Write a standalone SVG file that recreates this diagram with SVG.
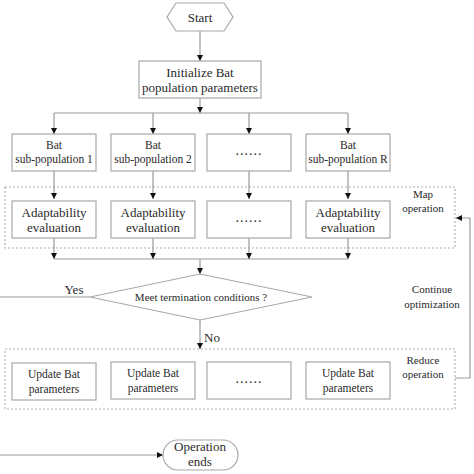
<svg xmlns="http://www.w3.org/2000/svg" width="474" height="474" viewBox="0 0 474 474">
<defs>
<marker id="arr" markerUnits="userSpaceOnUse" markerWidth="6" markerHeight="6" refX="6" refY="3" orient="auto">
<path d="M0,0 L6,3 L0,6 z" fill="#111"/>
</marker>
<style>
.box{fill:#fff;stroke:#a8a8a8;stroke-width:1.2}
.dash{fill:none;stroke:#b0b0b0;stroke-width:1.2;stroke-dasharray:2,2}
.ln{fill:none;stroke:#999;stroke-width:1.2}
.ar{marker-end:url(#arr)}
</style>
</defs>
<rect width="474" height="474" fill="#fff"/>

<g id="groups">
<rect id="map-region" class="dash" x="5" y="187" width="450" height="61"/>
<rect id="reduce-region" class="dash" x="5" y="349" width="450" height="60"/>
<text font-family="Liberation Serif" font-size="11" fill="#2a2a2a" text-anchor="middle" x="423" y="198">Map</text>
<text font-family="Liberation Serif" font-size="11" fill="#2a2a2a" text-anchor="middle" x="423" y="212">operation</text>
<text font-family="Liberation Serif" font-size="11" fill="#2a2a2a" text-anchor="middle" x="423" y="364">Reduce</text>
<text font-family="Liberation Serif" font-size="11" fill="#2a2a2a" text-anchor="middle" x="423" y="378">operation</text>
</g>

<g id="connectors">
<path class="ln ar" d="M200,31 V61"/>
<path class="ln ar" d="M200,98 V113"/>
<path class="ln" d="M54,113 H348"/>
<path class="ln ar" d="M54,113 V134"/>
<path class="ln ar" d="M153,113 V134"/>
<path class="ln ar" d="M249,113 V134"/>
<path class="ln ar" d="M348,113 V134"/>
<path class="ln ar" d="M54,171 V199"/>
<path class="ln ar" d="M153,171 V199"/>
<path class="ln ar" d="M249,171 V199"/>
<path class="ln ar" d="M348,171 V199"/>
<path class="ln ar" d="M54,238 V259"/>
<path class="ln ar" d="M153,238 V259"/>
<path class="ln ar" d="M249,238 V259"/>
<path class="ln ar" d="M348,238 V259"/>
<path class="ln" d="M54,259 H348"/>
<path class="ln ar" d="M200,259 V274"/>
<path class="ln" d="M90,297 H0"/>
<path class="ln ar" d="M0,455 H163"/>
<path class="ln ar" d="M200,320 V349"/>
<path class="ln ar" d="M455,378 H470 V218 H456"/>
<text font-family="Liberation Serif" font-size="13" fill="#2a2a2a" text-anchor="middle" x="74" y="294">Yes</text>
<text font-family="Liberation Serif" font-size="13" fill="#2a2a2a" text-anchor="middle" x="212" y="342">No</text>
<text font-family="Liberation Serif" font-size="11" fill="#2a2a2a" text-anchor="middle" x="432" y="293">Continue</text>
<text font-family="Liberation Serif" font-size="11" fill="#2a2a2a" text-anchor="middle" x="432" y="308">optimization</text>
</g>

<g id="start">
<polygon class="box" points="167,17 176,3 224,3 233,17 224,31 176,31"/>
<text font-family="Liberation Serif" font-size="13" fill="#2a2a2a" text-anchor="middle" x="200" y="22">Start</text>
</g>

<g id="init">
<rect class="box" x="139" y="61" width="122" height="37"/>
<text font-family="Liberation Serif" font-size="13" fill="#2a2a2a" text-anchor="middle" x="200" y="77">Initialize Bat</text>
<text font-family="Liberation Serif" font-size="13" fill="#2a2a2a" text-anchor="middle" x="200" y="92">population parameters</text>
</g>

<g id="sub1">
<rect class="box" x="12" y="134" width="84" height="37"/>
<text font-family="Liberation Serif" font-size="11.5" fill="#2a2a2a" text-anchor="middle" x="54" y="149">Bat</text>
<text font-family="Liberation Serif" font-size="11.5" fill="#2a2a2a" text-anchor="middle" x="54" y="163">sub-population 1</text>
</g>
<g id="sub2">
<rect class="box" x="111" y="134" width="84" height="37"/>
<text font-family="Liberation Serif" font-size="11.5" fill="#2a2a2a" text-anchor="middle" x="153" y="149">Bat</text>
<text font-family="Liberation Serif" font-size="11.5" fill="#2a2a2a" text-anchor="middle" x="153" y="163">sub-population 2</text>
</g>
<g id="sub3">
<rect class="box" x="207" y="134" width="84" height="37"/>
<text font-family="Liberation Serif" font-size="14" letter-spacing="1" fill="#2a2a2a" text-anchor="middle" x="249" y="155">......</text>
</g>
<g id="subR">
<rect class="box" x="306" y="134" width="84" height="37"/>
<text font-family="Liberation Serif" font-size="11.5" fill="#2a2a2a" text-anchor="middle" x="348" y="149">Bat</text>
<text font-family="Liberation Serif" font-size="11.5" fill="#2a2a2a" text-anchor="middle" x="348" y="163">sub-population R</text>
</g>

<g id="eval1">
<rect class="box" x="12" y="201" width="84" height="37"/>
<text font-family="Liberation Serif" font-size="13" fill="#2a2a2a" text-anchor="middle" x="54" y="217">Adaptability</text>
<text font-family="Liberation Serif" font-size="13" fill="#2a2a2a" text-anchor="middle" x="54" y="232">evaluation</text>
</g>
<g id="eval2">
<rect class="box" x="111" y="201" width="84" height="37"/>
<text font-family="Liberation Serif" font-size="13" fill="#2a2a2a" text-anchor="middle" x="153" y="217">Adaptability</text>
<text font-family="Liberation Serif" font-size="13" fill="#2a2a2a" text-anchor="middle" x="153" y="232">evaluation</text>
</g>
<g id="eval3">
<rect class="box" x="207" y="201" width="84" height="37"/>
<text font-family="Liberation Serif" font-size="14" letter-spacing="1" fill="#2a2a2a" text-anchor="middle" x="249" y="222">......</text>
</g>
<g id="evalR">
<rect class="box" x="306" y="201" width="84" height="37"/>
<text font-family="Liberation Serif" font-size="13" fill="#2a2a2a" text-anchor="middle" x="348" y="217">Adaptability</text>
<text font-family="Liberation Serif" font-size="13" fill="#2a2a2a" text-anchor="middle" x="348" y="232">evaluation</text>
</g>

<g id="decision">
<polygon class="box" points="200,274 312,297 200,320 90,297"/>
<text font-family="Liberation Serif" font-size="11" fill="#2a2a2a" text-anchor="middle" x="201" y="301">Meet termination conditions ?</text>
</g>

<g id="upd1">
<rect class="box" x="12" y="363" width="84" height="37"/>
<text font-family="Liberation Serif" font-size="11.5" fill="#2a2a2a" text-anchor="middle" x="54" y="378">Update Bat</text>
<text font-family="Liberation Serif" font-size="11.5" fill="#2a2a2a" text-anchor="middle" x="54" y="393">parameters</text>
</g>
<g id="upd2">
<rect class="box" x="111" y="362" width="84" height="37"/>
<text font-family="Liberation Serif" font-size="11.5" fill="#2a2a2a" text-anchor="middle" x="153" y="377">Update Bat</text>
<text font-family="Liberation Serif" font-size="11.5" fill="#2a2a2a" text-anchor="middle" x="153" y="392">parameters</text>
</g>
<g id="upd3">
<rect class="box" x="207" y="362" width="84" height="37"/>
<text font-family="Liberation Serif" font-size="14" letter-spacing="1" fill="#2a2a2a" text-anchor="middle" x="249" y="383">......</text>
</g>
<g id="updR">
<rect class="box" x="306" y="362" width="84" height="37"/>
<text font-family="Liberation Serif" font-size="11.5" fill="#2a2a2a" text-anchor="middle" x="348" y="377">Update Bat</text>
<text font-family="Liberation Serif" font-size="11.5" fill="#2a2a2a" text-anchor="middle" x="348" y="392">parameters</text>
</g>

<g id="end">
<rect class="box" x="163" y="440" width="75" height="30" rx="15" ry="15"/>
<text font-family="Liberation Serif" font-size="13" fill="#2a2a2a" text-anchor="middle" x="200" y="451">Operation</text>
<text font-family="Liberation Serif" font-size="13" fill="#2a2a2a" text-anchor="middle" x="200" y="466">ends</text>
</g>
</svg>
